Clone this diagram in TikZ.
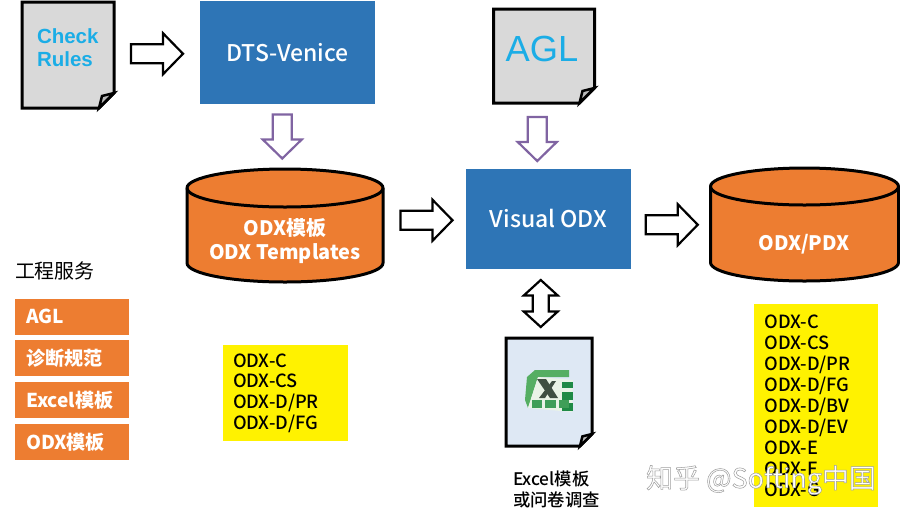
\documentclass[tikz,border=0pt]{standalone}
\usepackage{fontspec}
\setmainfont{Noto Sans CJK SC}[BoldFont={Noto Sans CJK SC Medium}]
\newfontfamily\arialfont{Liberation Sans}
\newfontfamily\heavyfont{Noto Sans CJK SC}
\usetikzlibrary{calc}
\newcommand{\pxu}{0.03cm}
\definecolor{orangefill}{HTML}{ED7D31}
\definecolor{bluefill}{HTML}{2E75B6}
\definecolor{pagegray}{HTML}{D9D9D9}
\definecolor{pageblue}{HTML}{DEE8F4}
\definecolor{rulecyan}{HTML}{1BADE6}
\definecolor{arrowpurple}{HTML}{8064A2}
\definecolor{xlgreen}{HTML}{55AE62}
\definecolor{xldark}{HTML}{1F8A45}
\definecolor{xlcell}{HTML}{3F9E58}
\definecolor{xlpale}{HTML}{E9F3E6}
\definecolor{xlmark}{HTML}{3F4F42}
\tikzset{
  toolbox/.style={fill=bluefill, text=white, outer sep=0pt, font=\fontsize{19.6}{23}\selectfont\bfseries},
  plainbox/.style={inner sep=0pt, outer sep=0pt},
  heavyline/.style={draw=black, line width=3*\pxu, line join=miter},
  plaintext/.style={inner sep=0pt, outer sep=0pt, align=left},
  dbtext/.style={inner sep=0pt, text=white, align=center, font=\heavyfont\fontsize{17}{20.5}\selectfont\bfseries},
  blockline/.style={draw=black, fill=white, line width=2.2*\pxu, line join=miter},
  purpleline/.style={blockline, draw=arrowpurple},
  servicebox/.style={anchor=west, fill=orangefill, text=white, outer sep=0pt, inner xsep=11*\pxu, inner ysep=0pt,
    minimum width=114*\pxu, minimum height=36*\pxu, align=left, text width=92*\pxu,
    font=\heavyfont\fontsize{16.3}{20}\selectfont\bfseries},
  listbox/.style={anchor=north west, fill=yellow, text=black, outer sep=0pt, inner xsep=10.5*\pxu, inner ysep=0pt,
    align=left, font=\fontsize{15.5}{17.9}\selectfont\bfseries},
}
% page with a turned corner round an empty node
\newcommand{\pagebody}[3]{
  \draw[heavyline, fill=#2] (#1.north west) -- (#1.north east) -- ($(#1.south east)+(0,-#3)$) -- ($(#1.south east)+(-#3,0)$) -- (#1.south west) -- cycle;
  \draw[heavyline, line width=2.5*\pxu, fill=gray!55] ($(#1.south east)+(0,-#3)$) -- ($(#1.south east)+(-0.8*#3,-0.8*#3)$) -- ($(#1.south east)+(-#3,0)$) -- cycle;
}
% drum round an empty node
\newcommand{\drumbody}[3]{
  \draw[heavyline, fill=orangefill] ($(#1.north west)+(0,#3)$) -- ($(#1.south west)+(0,-#3)$) arc[start angle=180, end angle=360, x radius=#2*\pxu, y radius=#3*\pxu] -- ($(#1.north east)+(0,#3)$) arc[start angle=0, end angle=180, x radius=#2*\pxu, y radius=#3*\pxu] -- cycle;
  \draw[heavyline] ($(#1.north west)+(0,#3)$) arc[start angle=180, end angle=360, x radius=#2*\pxu, y radius=#3*\pxu];
}
% hollow arrow: style, centre, turn, length, head width, shaft width, head length
\newcommand{\hollowarrow}[7]{
  \draw[#1, shift={(#2)}, rotate=#3] (-#4/2,-#6/2) -- (#4/2-#7,-#6/2) -- (#4/2-#7,-#5/2) -- (#4/2,0) -- (#4/2-#7,#5/2) -- (#4/2-#7,#6/2) -- (-#4/2,#6/2) -- cycle;
}

\begin{document}
\begin{tikzpicture}[x=\pxu,y=-\pxu]
\useasboundingbox (0,0) rectangle (900,521);

\draw (68,55) node[plainbox, minimum width=92*\pxu, minimum height=106*\pxu] (checkrules) {};
\pagebody{checkrules}{pagegray}{15}
\draw (37,47.5) node[plaintext, anchor=west, text=rulecyan, font=\arialfont\fontsize{17.5}{19.6}\selectfont\bfseries] (checktext) {Check\\Rules};
\draw (287.5,52.5) node[toolbox, minimum width=175*\pxu, minimum height=103*\pxu] (dts) {DTS-Venice};

\draw (544,56) node[plainbox, minimum width=101*\pxu, minimum height=94*\pxu] (agl) {};
\pagebody{agl}{pagegray}{15}
\draw (542,49) node[plaintext, text=rulecyan, font=\arialfont\fontsize{31}{36}\selectfont] (agltext) {AGL};

\draw (285,225.5) node[plainbox, minimum width=196*\pxu, minimum height=113*\pxu] (templates) {};
\drumbody{templates}{98}{19}
\draw (285,241) node[dbtext] (templatestext) {ODX模板\\ODX Templates};
\draw (548.5,219) node[toolbox, minimum width=165*\pxu, minimum height=100*\pxu] (visual) {Visual ODX};
\draw (804.5,224.5) node[plainbox, minimum width=188*\pxu, minimum height=113*\pxu] (pdx) {};
\drumbody{pdx}{94}{18.5}
\draw (804,244) node[dbtext] (pdxtext) {ODX/PDX};

\draw (549,392) node[plainbox, minimum width=86*\pxu, minimum height=108*\pxu] (excel) {};
\pagebody{excel}{pageblue}{12}

% block arrows between the boxes
\path (checkrules.east) -- (dts.west) coordinate[midway] (checkmid);
\path (dts.south) -- (templates.north) coordinate[midway, xshift=-4*\pxu] (dtsmid);
\path (agl.south) -- (visual.north) coordinate[midway, xshift=-9*\pxu, yshift=-3*\pxu] (aglmid);
\path (templates.east) -- (visual.west) coordinate[midway, xshift=2*\pxu, yshift=2*\pxu] (templatesmid);
\path (visual.east) -- (pdx.west) coordinate[midway, xshift=1*\pxu, yshift=-3*\pxu] (pdxmid);
\path (visual.south) -- (excel.north) coordinate[midway, xshift=-8*\pxu, yshift=0*\pxu] (excelmid);
\hollowarrow{blockline}{checkmid}{0}{52}{41}{19}{20}
\hollowarrow{purpleline}{dtsmid}{-90}{44}{39}{19}{19}
\hollowarrow{purpleline}{aglmid}{-90}{44}{39}{19}{19}
\hollowarrow{blockline}{templatesmid}{0}{52}{41}{19}{20}
\hollowarrow{blockline}{pdxmid}{0}{52}{41}{19}{20}
\draw[blockline, shift={(excelmid)}] (-8,-8) -- (-17,-8) -- (0,-23.5) -- (17,-8) -- (8,-8) -- (8,8) -- (17,8) -- (0,23.5) -- (-17,8) -- (-8,8) -- cycle;

% excel icon
\fill[xlgreen] (525,400) -- (527,377) -- (535,370) -- (569,370) -- (569,377) -- (538,377) -- (528,408) -- cycle;
\fill[xlpale] (538,377) -- (573,380) -- (572,412) -- (528,408) -- cycle;
\foreach \y/\h in {382/6,392/8,403/8} {
	\fill[xldark] (562,\y) rectangle (573,\y+\h);
}
\foreach \x/\w in {532/10,545/11,559/10} {
	\fill[xlcell] (\x,400) rectangle (\x+\w,408);
}
\fill[xlmark] (537,379) -- (546,379) -- (558,398) -- (550,398) -- cycle;
\fill[xlmark] (552,381) -- (556,381) -- (545,398) -- (539,398) -- cycle;

\draw (513,489.5) node[plaintext, anchor=west, font=\fontsize{14.8}{17.5}\selectfont\bfseries] (exceltext) {Excel模板\\或问卷调查};

\draw (15,271) node[plaintext, anchor=west, font=\fontsize{17}{20}\selectfont] (servicetitle) {工程服务};
\draw (15,316.5) node[servicebox] (serviceagl) {\raisebox{-1pt}{AGL}};
\draw (15,358) node[servicebox] (servicespec) {诊断规范};
\draw (15,400) node[servicebox] (serviceexcel) {Excel模板};
\draw (15,442) node[servicebox] (serviceodx) {ODX模板};

\draw (222.5,345) node[listbox, minimum width=125*\pxu, minimum height=96*\pxu, text width=104*\pxu] (templatelist) {\raisebox{-1pt}{ODX-C}\\ODX-CS\\ODX-D/PR\\ODX-D/FG};
\draw (754,304) node[listbox, minimum width=124*\pxu, minimum height=203*\pxu, text width=103*\pxu] (pdxlist) {ODX-C\\ODX-CS\\ODX-D/PR\\ODX-D/FG\\ODX-D/BV\\ODX-D/EV\\ODX-E\\ODX-F\\ODX-G};

\draw (761,480) node[inner sep=0pt, font=\fontsize{23}{26}\selectfont] (watermark) {\special{pdf:code q 2 Tr 0.45 w 0.62 G 1 g}知乎\ @Softing中国\special{pdf:code Q}};
\end{tikzpicture}
\end{document}
